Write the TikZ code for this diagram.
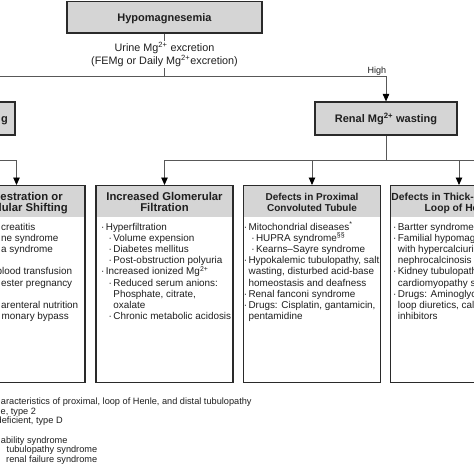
\documentclass[tikz,border=0pt]{standalone}
\usepackage{fontspec}
\setmainfont{Liberation Sans}
\usetikzlibrary{arrows.meta}
\definecolor{hdrgray}{HTML}{D5D5D5}
\definecolor{linegray}{HTML}{585858}
\definecolor{boxline}{HTML}{2A2A2A}
\definecolor{txt}{HTML}{1F1F1F}
\newcommand\blt{\makebox[4.8pt][l]{·}}
\tikzset{
  bigbox/.style={draw=boxline, line width=1.2pt, fill=hdrgray, inner sep=0pt, minimum height=32pt},
  colbox/.style={draw=boxline, line width=1.2pt, inner sep=0pt, minimum width=137pt, minimum height=197pt, anchor=north},
  colhdr/.style={fill=hdrgray, inner sep=0pt, minimum width=137pt, minimum height=32pt, anchor=north},
  conn/.style={draw=linegray, line width=0.9pt},
  arr/.style={conn, -{Triangle[length=7.5pt,width=6.5pt,color=black]}},
  bigtxt/.style={anchor=base, inner sep=0pt, text=txt, font=\fontsize{11}{12}\selectfont\bfseries},
  hdrtxtL/.style={anchor=base, inner sep=0pt, text=txt, font=\fontsize{11.3}{12}\selectfont\bfseries},
  hdrtxtS/.style={anchor=base, inner sep=0pt, text=txt, font=\fontsize{10}{11}\selectfont\bfseries},
  midtxt/.style={anchor=base, inner sep=1.5pt, text=txt, font=\fontsize{10.8}{12}\selectfont},
  smalltxt/.style={anchor=base, inner sep=0pt, text=txt, font=\fontsize{9}{10}\selectfont},
  bodytxt/.style={anchor=base west, inner sep=0pt, text=txt, font=\fontsize{9.9}{11}\selectfont},
  foottxt/.style={anchor=base west, inner sep=0pt, text=txt, font=\fontsize{9.2}{10}\selectfont},
}
\begin{document}
\begin{tikzpicture}[x=1pt,y=-1pt]
\useasboundingbox (0,0) rectangle (474,474);
\fill[white] (0,0) rectangle (474,474);

% ---- top level
\node[bigbox, minimum width=195pt, minimum height=31.5pt] (hypo) at (164.5,17.2) {};
\node[bigtxt] (hypot) at (164.5,21.5) {Hypomagnesemia};
\node[midtxt] (urine1) at (164.5,51.5) {Urine Mg\textsuperscript{2+} excretion};
\node[midtxt] (urine2) at (164.5,64.5) {(FEMg or Daily Mg\textsuperscript{2+}excretion)};
\coordinate (jtop) at (164.5,76);

\node[bigbox, minimum width=141pt, minimum height=33pt] (extr) at (-55.5,118.5) {};
\node[bigtxt, anchor=base west] (extrt) at (1,122) {g};
\node[bigbox, minimum width=142pt, minimum height=33pt] (renal) at (386,118.5) {};
\node[bigtxt] (renalt) at (386,122) {Renal Mg\textsuperscript{2+} wasting};
\node[smalltxt] (high) at (377,73.5) {High};

\draw[conn] (hypo.south) -- (urine1.north);
\draw[conn] (urine2.south) -- (jtop);
\draw[arr] (jtop) -| (renal.north);
\draw[arr] (jtop) -| (extr.north);

% ---- column boxes
\node[colhdr] (h1) at (16.5,185) {};
\node[colbox] (b1) at (16.5,185) {};
\node[colhdr] (h2) at (164.5,185) {};
\node[colbox] (b2) at (164.5,185) {};
\node[colhdr] (h3) at (312,185) {};
\node[colbox] (b3) at (312,185) {};
\node[colhdr] (h4) at (459,185) {};
\node[colbox] (b4) at (459,185) {};

% ---- second level connectors
\coordinate (jr) at (386,160);
\coordinate (jrl) at (164.5,160);
\coordinate (jrr) at (480,160);
\draw[conn] (renal.south) -- (jr);
\draw[conn] (jrl) -- (jrr);
\draw[arr] (jrl) -- (b2.north);
\draw[arr] (b3.north |- jr) -- (b3.north);
\draw[arr] (b4.north |- jr) -- (b4.north);
\draw[arr] (extr.south) |- (b1.north |- jr) -- (b1.north);

% ---- headers
\node[hdrtxtL, anchor=base west] (b1h1) at (0.3,200.5) {estration or};
\node[hdrtxtL, anchor=base west] (b1h2) at (-1.5,211.5) {lular Shifting};
\node[hdrtxtL] (b2h1) at (164.5,200.5) {Increased Glomerular};
\node[hdrtxtL] (b2h2) at (164.5,211.5) {Filtration};
\node[hdrtxtS] (b3h1) at (312,200) {Defects in Proximal};
\node[hdrtxtS] (b3h2) at (312,211) {Convoluted Tubule};
\node[hdrtxtS, font=\fontsize{10.3}{11}\selectfont\bfseries] (b4h1) at (459,200) {Defects in Thick-Ascending};
\node[hdrtxtS, font=\fontsize{10.3}{11}\selectfont\bfseries] (b4h2) at (459,211) {Loop of Henle};

% ---- box 1 body (clipped fragments)
\node[bodytxt] (b1l0) at (1,230.5) {creatitis};
\node[bodytxt] (b1l1) at (1,241.6) {ne syndrome};
\node[bodytxt] (b1l2) at (1,252.7) {a syndrome};
\node[bodytxt] (b1l4) at (-3.5,274.9) {blood transfusion};
\node[bodytxt] (b1l5) at (1,286) {ester pregnancy};
\node[bodytxt] (b1l7) at (1,308.2) {arenteral nutrition};
\node[bodytxt] (b1l8) at (1.5,319.3) {monary bypass};

% ---- box 2 body
\foreach \dx/\txt [count=\i from 0] in {
  0/{\blt Hyperfiltration},
  7.5/{\blt Volume expension},
  7.5/{\blt Diabetes mellitus},
  7.5/{\blt Post-obstruction polyuria},
  0/{\blt Increased ionized Mg\textsuperscript{2+}},
  7.5/{\blt Reduced serum anions:},
  12.3/{Phosphate, citrate,},
  12.3/{oxalate},
  7.5/{\blt Chronic metabolic acidosis}}{
  \node[bodytxt] (b2l\i) at ({100.9+\dx},{230.5+11.1*\i}) {\txt};
}

% ---- box 3 body
\foreach \dx/\txt [count=\i from 0] in {
  0/{\blt Mitochondrial diseases\textsuperscript{*}},
  7.5/{\blt HUPRA syndrome\textsuperscript{§§}},
  7.5/{\blt Kearns–Sayre syndrome},
  0/{\blt Hypokalemic tubulopathy, salt},
  4.8/{wasting, disturbed acid-base},
  4.8/{homeostasis and deafness},
  0/{\blt Renal fanconi syndrome},
  0/{\blt Drugs: Cisplatin, gantamicin,},
  4.8/{pentamidine}}{
  \node[bodytxt] (b3l\i) at ({243.6+\dx},{230.5+11.1*\i}) {\txt};
}

% ---- box 4 body
\foreach \dx/\txt [count=\i from 0] in {
  0/{\blt Bartter syndrome},
  0/{\blt Familial hypomagnesemia},
  4.8/{with hypercalciuria and},
  4.8/{nephrocalcinosis},
  0/{\blt Kidney tubulopathy and},
  4.8/{cardiomyopathy syndrome},
  0/{\blt Drugs: Aminoglycosides,},
  4.8/{loop diuretics, calcineurin},
  4.8/{inhibitors}}{
  \node[bodytxt] (b4l\i) at ({392.9+\dx},{230.5+11.1*\i}) {\txt};
}

% ---- footnotes (clipped fragments)
\node[foottxt] (f1) at (0.8,404.5) {aracteristics of proximal, loop of Henle, and distal tubulopathy};
\node[foottxt] (f2) at (0.5,414) {e, type 2};
\node[foottxt] (f3) at (-3.5,423.5) {deficient, type D};
\node[foottxt] (f4) at (0.8,443) {ability syndrome};
\node[foottxt] (f5) at (6.5,452.5) {tubulopathy syndrome};
\node[foottxt] (f6) at (6,462) {renal failure syndrome};
\end{tikzpicture}
\end{document}
